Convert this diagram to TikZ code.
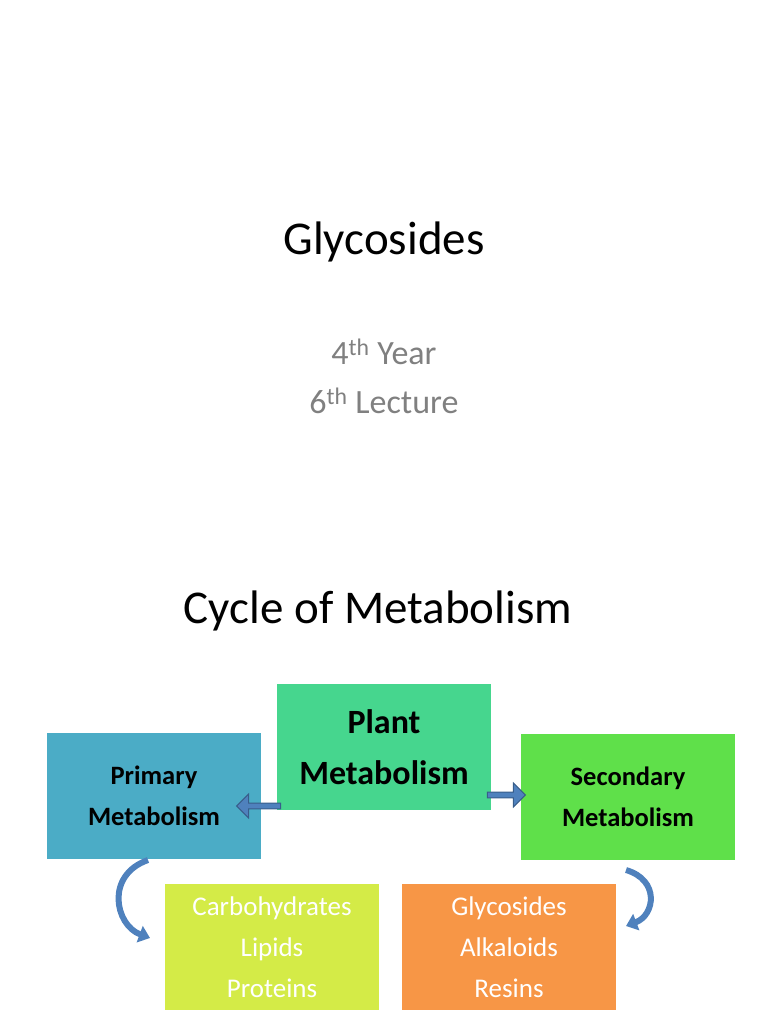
\documentclass[tikz,border=0pt]{standalone}
\usepackage{fontspec}
\setmainfont{Carlito}
\usetikzlibrary{shapes.arrows,arrows.meta}
\definecolor{plantc}{HTML}{46D68E}
\definecolor{primc}{HTML}{4BACC6}
\definecolor{secc}{HTML}{5FE04A}
\definecolor{carbc}{HTML}{D4EB47}
\definecolor{glyc}{HTML}{F79646}
\definecolor{arrc}{HTML}{4F81BD}
\definecolor{arrd}{HTML}{385D8A}
\tikzset{
 boxn/.style={minimum width=214pt,minimum height=126pt,inner sep=0pt,align=center},
 blk/.style={single arrow,fill=arrc,draw=arrd,line width=1pt,single arrow head extend=5pt,minimum width=24pt,inner sep=1pt},
 carr/.style={draw=arrc,line width=6pt,-{Triangle[length=11pt,width=17pt]}}
}
\begin{document}
\begin{tikzpicture}[x=1pt,y=-1pt]
\useasboundingbox (0,0) rectangle (768,1024);
\node[font=\fontsize{47}{50}\selectfont] (title) at (384,242) {Glycosides};
\node[text=gray,align=center,font=\fontsize{34}{49}\selectfont] (sub) at (384,376) {4\textsuperscript{th} Year\\6\textsuperscript{th} Lecture};
\node[font=\fontsize{47}{50}\selectfont] (cyc) at (378,611) {Cycle of Metabolism};
\node[boxn,fill=plantc,font=\fontsize{34}{51}\selectfont\bfseries] (plant) at (384,747) {Plant\\Metabolism};
\node[boxn,fill=primc,font=\fontsize{26.5}{41}\selectfont\bfseries] (prim) at (154,796) {Primary\\Metabolism};
\node[boxn,fill=secc,font=\fontsize{26.5}{41}\selectfont\bfseries] (sec) at (628,797) {Secondary\\Metabolism};
\node[boxn,fill=carbc,text=white,font=\fontsize{27}{41}\selectfont] (carb) at (272,947) {Carbohydrates\\Lipids\\Proteins};
\node[boxn,fill=glyc,text=white,font=\fontsize{27}{41}\selectfont] (gly) at (509,947) {Glycosides\\Alkaloids\\Resins};
\node[blk,shape border rotate=180,minimum height=44pt] (la) at (260,806) {};
\node[blk,minimum height=38pt] (ra) at (505,795) {};
\coordinate (c1s) at (148,860);
\coordinate (c1e) at (150,938);
\draw[carr] (c1s) .. controls (105,875) and (115,925) .. (c1e);
\coordinate (c2s) at (626,870);
\coordinate (c2e) at (626,926);
\draw[carr] (c2s) .. controls (660,880) and (655,915) .. (c2e);
\end{tikzpicture}
\end{document}
